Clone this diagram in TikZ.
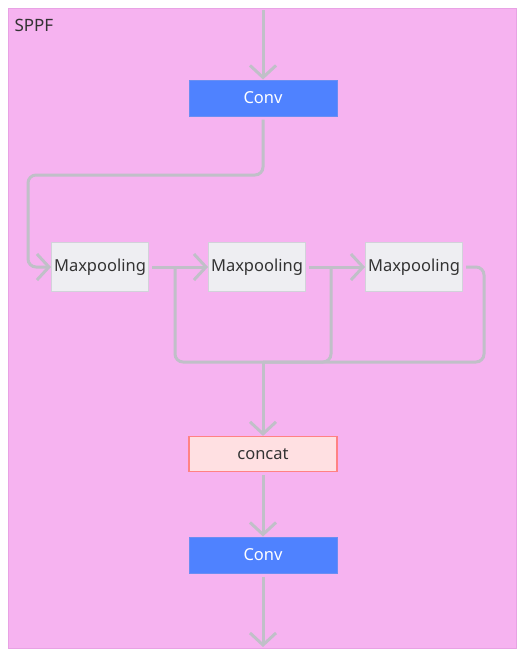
\documentclass[tikz,border=0pt]{standalone}
\usepackage{fontspec}
\setmainfont{Noto Sans}
\usetikzlibrary{arrows.meta}
\definecolor{sppfbg}{HTML}{F6B3F0}
\definecolor{sppfedge}{HTML}{E8A2E4}
\definecolor{convfill}{HTML}{4F82FF}
\definecolor{convedge}{HTML}{6A8EF2}
\definecolor{poolfill}{HTML}{EEEEF2}
\definecolor{pooledge}{HTML}{D2D2DA}
\definecolor{catfill}{HTML}{FFE0E2}
\definecolor{catedge}{HTML}{FF8284}
\definecolor{wire}{HTML}{C0C0C8}
\definecolor{ink}{HTML}{333333}
\begin{document}
\begin{tikzpicture}[x=1pt, y=-1pt,
  conv/.style={draw=convedge, line width=1pt, fill=convfill, text=white, font=\fontsize{16.5}{19}\selectfont, minimum width=148pt, minimum height=36pt, inner sep=0pt},
  pool/.style={draw=pooledge, line width=1pt, fill=poolfill, text=ink, font=\fontsize{16.5}{19}\selectfont, minimum width=97pt, minimum height=49pt, inner sep=0pt},
  cat/.style={draw=catedge, line width=1.2pt, fill=catfill, text=ink, font=\fontsize{16.5}{19}\selectfont, minimum width=148pt, minimum height=35pt, inner sep=0pt},
  wireline/.style={draw=wire, line width=3pt, rounded corners=8pt},
  flow/.style={wireline, -{Straight Barb[length=12pt, width=26pt]}, shorten <=3pt}
]
\useasboundingbox (0,0) rectangle (526,656);
\fill[sppfbg, draw=sppfedge, line width=1pt] (8,8) rectangle (516,648);
\node[anchor=west, text=ink, font=\fontsize{17}{20}\selectfont] (title) at (11,25) {SPPF};

\node[conv] (conv1) at (263,98) {Conv};
\node[pool] (mp1) at (100,267) {Maxpooling};
\node[pool] (mp2) at (257,267) {Maxpooling};
\node[pool] (mp3) at (414,267) {Maxpooling};
\node[cat] (concat) at (263,454) {concat};
\node[conv] (conv2) at (263,555) {Conv};

\coordinate (in) at (263,10);
\coordinate (bend) at (28,175);
\coordinate (j1) at (175,267);
\coordinate (j2) at (331,267);
\coordinate (j3) at (484,267);
\coordinate (merge) at (263,362);
\coordinate (out) at (263,647);

\draw[flow, shorten <=0pt] (in) -- (conv1.north);
\draw[flow] (conv1.south) |- (bend) |- (mp1.west);
\draw[flow] (mp1.east) -- (mp2.west);
\draw[flow] (mp2.east) -- (mp3.west);
\draw[wireline] (j1) |- (merge);
\draw[wireline] (j2) |- (merge);
\draw[wireline, shorten <=3pt] (mp3.east) -- (j3) |- (merge);
\draw[flow, shorten <=0pt] (merge) -- (concat.north);
\draw[flow] (concat.south) -- (conv2.north);
\draw[flow] (conv2.south) -- (out);
\end{tikzpicture}
\end{document}
